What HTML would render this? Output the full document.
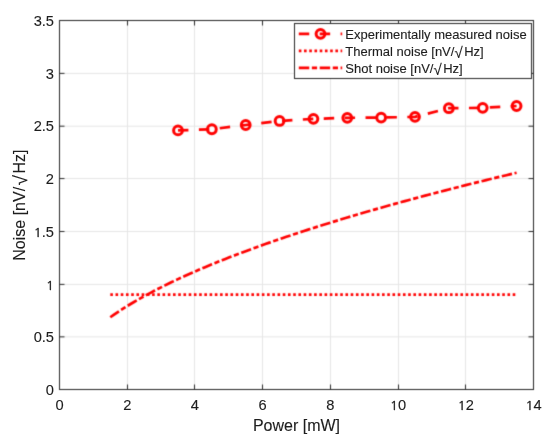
<!DOCTYPE html>
<html><head><meta charset="utf-8"><style>
html,body{margin:0;padding:0;background:#fff;}
svg{display:block;}
text{font-family:"Liberation Sans",Arial,sans-serif;fill:#1e1e1e;stroke:#1e1e1e;stroke-width:0.12px;}
.o{font-family:"NanumGothic","Liberation Sans",sans-serif;font-size:13.2px;stroke-width:0.4px;}
</style></head><body>
<svg width="550" height="441" viewBox="0 0 550 441">
<defs><filter id="soft" x="0" y="0" width="550" height="441" filterUnits="userSpaceOnUse" color-interpolation-filters="sRGB"><feConvolveMatrix order="3" kernelMatrix="0.0225 0.1050 0.0225 0.1050 0.4900 0.1050 0.0225 0.1050 0.0225" edgeMode="duplicate" preserveAlpha="true"/></filter></defs>
<g filter="url(#soft)">
<rect x="0" y="0" width="550" height="441" fill="#fff"/>
<g stroke="#e5e5e5" stroke-width="1"><line x1="127.5" y1="20.5" x2="127.5" y2="389.5"/><line x1="194.5" y1="20.5" x2="194.5" y2="389.5"/><line x1="262.5" y1="20.5" x2="262.5" y2="389.5"/><line x1="330.5" y1="20.5" x2="330.5" y2="389.5"/><line x1="398.5" y1="20.5" x2="398.5" y2="389.5"/><line x1="465.5" y1="20.5" x2="465.5" y2="389.5"/><line x1="59.5" y1="336.85" x2="533.5" y2="336.85"/><line x1="59.5" y1="284.4" x2="533.5" y2="284.4"/><line x1="59.5" y1="231.5" x2="533.5" y2="231.5"/><line x1="59.5" y1="178.55" x2="533.5" y2="178.55"/><line x1="59.5" y1="126.2" x2="533.5" y2="126.2"/><line x1="59.5" y1="73.4" x2="533.5" y2="73.4"/></g>
<g stroke="#262626" stroke-width="1"><line x1="59.50" y1="389.5" x2="59.50" y2="384.5"/><line x1="59.50" y1="20.5" x2="59.50" y2="25.5"/><line x1="127.50" y1="389.5" x2="127.50" y2="384.5"/><line x1="127.50" y1="20.5" x2="127.50" y2="25.5"/><line x1="194.50" y1="389.5" x2="194.50" y2="384.5"/><line x1="194.50" y1="20.5" x2="194.50" y2="25.5"/><line x1="262.50" y1="389.5" x2="262.50" y2="384.5"/><line x1="262.50" y1="20.5" x2="262.50" y2="25.5"/><line x1="330.50" y1="389.5" x2="330.50" y2="384.5"/><line x1="330.50" y1="20.5" x2="330.50" y2="25.5"/><line x1="398.50" y1="389.5" x2="398.50" y2="384.5"/><line x1="398.50" y1="20.5" x2="398.50" y2="25.5"/><line x1="465.50" y1="389.5" x2="465.50" y2="384.5"/><line x1="465.50" y1="20.5" x2="465.50" y2="25.5"/><line x1="533.50" y1="389.5" x2="533.50" y2="384.5"/><line x1="533.50" y1="20.5" x2="533.50" y2="25.5"/><line x1="59.5" y1="389.50" x2="64.5" y2="389.50"/><line x1="533.5" y1="389.50" x2="528.5" y2="389.50"/><line x1="59.5" y1="336.85" x2="64.5" y2="336.85"/><line x1="533.5" y1="336.85" x2="528.5" y2="336.85"/><line x1="59.5" y1="284.40" x2="64.5" y2="284.40"/><line x1="533.5" y1="284.40" x2="528.5" y2="284.40"/><line x1="59.5" y1="231.50" x2="64.5" y2="231.50"/><line x1="533.5" y1="231.50" x2="528.5" y2="231.50"/><line x1="59.5" y1="178.55" x2="64.5" y2="178.55"/><line x1="533.5" y1="178.55" x2="528.5" y2="178.55"/><line x1="59.5" y1="126.20" x2="64.5" y2="126.20"/><line x1="533.5" y1="126.20" x2="528.5" y2="126.20"/><line x1="59.5" y1="73.40" x2="64.5" y2="73.40"/><line x1="533.5" y1="73.40" x2="528.5" y2="73.40"/><line x1="59.5" y1="20.50" x2="64.5" y2="20.50"/><line x1="533.5" y1="20.50" x2="528.5" y2="20.50"/></g>
<g fill="none" stroke="#ff0000" stroke-width="2.7" stroke-linejoin="round"><path d="M110.29,294.61 L516.57,294.61" stroke-dasharray="2.613 2.613"/><path d="M110.29,317.26 L113.67,314.89 L117.06,312.59 L120.44,310.36 L123.83,308.19 L127.21,306.08 L130.60,304.02 L133.99,302.01 L137.37,300.04 L140.76,298.12 L144.14,296.23 L147.53,294.39 L150.91,292.57 L154.30,290.80 L157.69,289.05 L161.07,287.33 L164.46,285.64 L167.84,283.98 L171.23,282.34 L174.61,280.73 L178.00,279.14 L181.39,277.58 L184.77,276.04 L188.16,274.51 L191.54,273.01 L194.93,271.53 L198.31,270.06 L201.70,268.61 L205.09,267.18 L208.47,265.77 L211.86,264.37 L215.24,262.99 L218.63,261.62 L222.01,260.27 L225.40,258.93 L228.79,257.60 L232.17,256.29 L235.56,254.99 L238.94,253.70 L242.33,252.43 L245.71,251.16 L249.10,249.91 L252.49,248.67 L255.87,247.44 L259.26,246.22 L262.64,245.01 L266.03,243.81 L269.41,242.62 L272.80,241.44 L276.19,240.27 L279.57,239.11 L282.96,237.96 L286.34,236.82 L289.73,235.68 L293.11,234.55 L296.50,233.43 L299.89,232.32 L303.27,231.22 L306.66,230.13 L310.04,229.04 L313.43,227.96 L316.81,226.88 L320.20,225.82 L323.59,224.76 L326.97,223.70 L330.36,222.66 L333.74,221.62 L337.13,220.59 L340.51,219.56 L343.90,218.54 L347.29,217.52 L350.67,216.52 L354.06,215.51 L357.44,214.52 L360.83,213.52 L364.21,212.54 L367.60,211.56 L370.99,210.58 L374.37,209.61 L377.76,208.65 L381.14,207.69 L384.53,206.73 L387.91,205.79 L391.30,204.84 L394.69,203.90 L398.07,202.97 L401.46,202.04 L404.84,201.11 L408.23,200.19 L411.61,199.27 L415.00,198.36 L418.39,197.45 L421.77,196.55 L425.16,195.65 L428.54,194.75 L431.93,193.86 L435.31,192.97 L438.70,192.09 L442.09,191.21 L445.47,190.34 L448.86,189.46 L452.24,188.60 L455.63,187.73 L459.01,186.87 L462.40,186.02 L465.79,185.16 L469.17,184.31 L472.56,183.47 L475.94,182.62 L479.33,181.78 L482.71,180.95 L486.10,180.12 L489.49,179.29 L492.87,178.46 L496.26,177.64 L499.64,176.82 L503.03,176.00 L506.41,175.19 L509.80,174.38 L513.19,173.57 L516.57,172.77" stroke-dasharray="10.452 2.613 5.226 2.613"/><path d="M178.00,130.41 L211.86,129.25 L245.71,124.98 L279.57,120.97 L313.43,118.86 L347.29,117.81 L381.14,117.55 L415.00,116.86 L448.86,108.22 L482.71,107.85 L516.57,106.00" stroke-dasharray="10.452 10.452"/><circle cx="178.00" cy="130.41" r="4.4" stroke-width="3.0"/><circle cx="211.86" cy="129.25" r="4.4" stroke-width="3.0"/><circle cx="245.71" cy="124.98" r="4.4" stroke-width="3.0"/><circle cx="279.57" cy="120.97" r="4.4" stroke-width="3.0"/><circle cx="313.43" cy="118.86" r="4.4" stroke-width="3.0"/><circle cx="347.29" cy="117.81" r="4.4" stroke-width="3.0"/><circle cx="381.14" cy="117.55" r="4.4" stroke-width="3.0"/><circle cx="415.00" cy="116.86" r="4.4" stroke-width="3.0"/><circle cx="448.86" cy="108.22" r="4.4" stroke-width="3.0"/><circle cx="482.71" cy="107.85" r="4.4" stroke-width="3.0"/><circle cx="516.57" cy="106.00" r="4.4" stroke-width="3.0"/></g>
<rect x="59.5" y="20.5" width="474.0" height="369.0" fill="none" stroke="#262626" stroke-width="1" shape-rendering="crispEdges"/>
<rect x="294.5" y="23.5" width="237.0" height="55.0" fill="#fff" stroke="#262626" stroke-width="1" shape-rendering="crispEdges"/>
<g fill="none" stroke="#ff0000" stroke-width="2.7"><path d="M298.8,33.8 L342.2,33.8" stroke-dasharray="10.452 10.452"/><circle cx="320.50" cy="33.8" r="4.4" stroke-width="3.0"/><path d="M298.8,50.8 L342.2,50.8" stroke-dasharray="2.613 2.613"/><path d="M298.8,67.8 L342.2,67.8" stroke-dasharray="10.452 2.613 5.226 2.613"/></g>
</g>
<g font-size="14.67"><text x="59.50" y="409.6" text-anchor="middle">0</text><text x="127.21" y="409.6" text-anchor="middle">2</text><text x="194.93" y="409.6" text-anchor="middle">4</text><text x="262.64" y="409.6" text-anchor="middle">6</text><text x="330.36" y="409.6" text-anchor="middle">8</text><text x="398.07" y="409.6" text-anchor="middle"><tspan class="o">1</tspan>0</text><text x="465.79" y="409.6" text-anchor="middle"><tspan class="o">1</tspan>2</text><text x="533.50" y="409.6" text-anchor="middle"><tspan class="o">1</tspan>4</text><text x="54" y="394.75" text-anchor="end">0</text><text x="54" y="342.10" text-anchor="end">0.5</text><text x="54" y="289.65" text-anchor="end"><tspan class="o">1</tspan></text><text x="54" y="236.75" text-anchor="end"><tspan class="o">1</tspan>.5</text><text x="54" y="183.80" text-anchor="end">2</text><text x="54" y="131.45" text-anchor="end">2.5</text><text x="54" y="78.65" text-anchor="end">3</text><text x="54" y="25.75" text-anchor="end">3.5</text></g>
<text x="296.5" y="431" text-anchor="middle" font-size="16">Power [mW]</text>
<text transform="translate(25.2,260.7) rotate(-90)" font-size="16">Noise [nV/<tspan font-size="19" dy="2" dx="1.5">√</tspan><tspan dy="-2" dx="1.4">Hz]</tspan></text>
<g font-size="13"><text x="345.3" y="38.60">Experimentally measured noise</text><text x="345.3" y="55.60">Thermal noise [nV/<tspan font-size="15" dy="2.3">√</tspan><tspan dy="-2.3" dx="1.5">Hz]</tspan></text><text x="345.3" y="72.60">Shot noise [nV/<tspan font-size="15" dy="2.3">√</tspan><tspan dy="-2.3" dx="1.5">Hz]</tspan></text></g>
</svg>
</body></html>
